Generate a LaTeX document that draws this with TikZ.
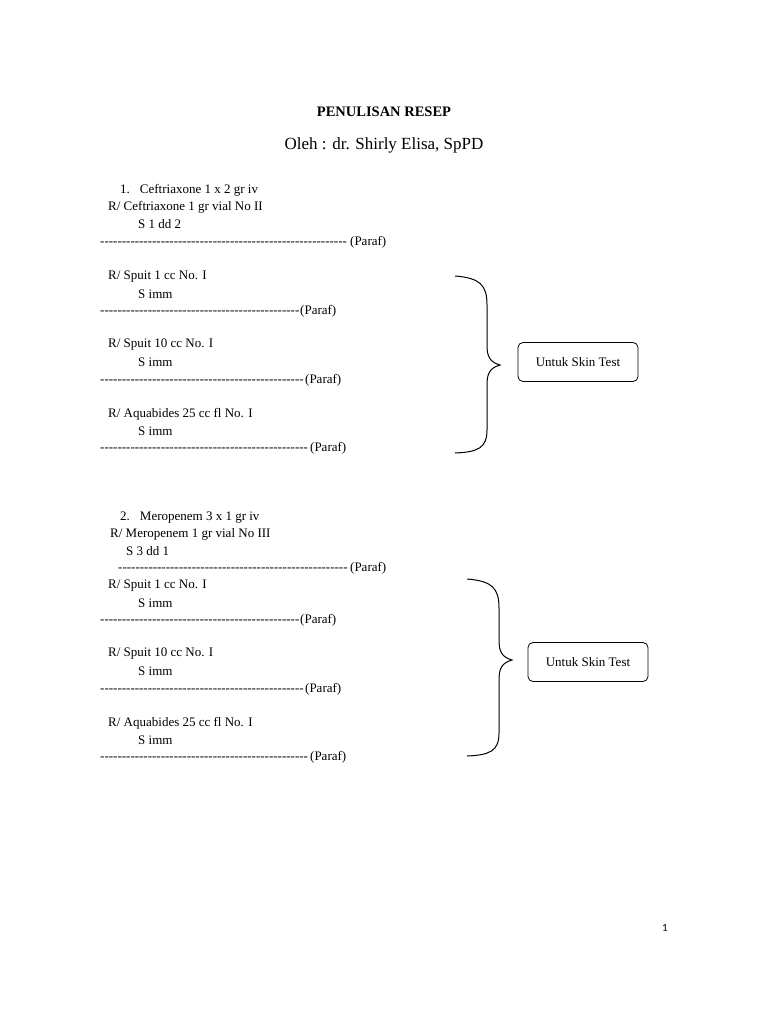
\documentclass[tikz,border=0pt]{standalone}
\usepackage{fontspec}
\setmainfont{Liberation Serif}
\newfontfamily\pgno{Carlito}
\newcommand\dl[1]{\makebox[#1pt]{\leaders\hbox{-}\hfill}(Paraf)}
\begin{document}
\begin{tikzpicture}[x=1pt,y=-1pt,
  t/.style={anchor=west,inner sep=0pt,font=\fontsize{13}{15}\selectfont},
  box/.style={draw,rounded corners=5pt,line width=0.8pt,minimum width=120pt,minimum height=39pt,font=\fontsize{13}{15}\selectfont},
  brace/.style={line width=1pt}]
\useasboundingbox[fill=white] (0,0) rectangle (768,1024);
\node[inner sep=0pt,font=\fontsize{14.5}{16}\selectfont\bfseries] (title) at (384,112) {PENULISAN RESEP};
\node[inner sep=0pt,font=\fontsize{17}{19}\selectfont] (by) at (384,145) {Oleh : dr. Shirly Elisa, SpPD};
% section 1
\node[t] (a1) at (120,190) {1.\hspace{10pt}Ceftriaxone 1 x 2 gr iv};
\node[t] (a2) at (108,207) {R/ Ceftriaxone 1 gr vial No II};
\node[t] (a3) at (138,224) {S 1 dd 2};
\node[t] (a4) at (100,242) {\dl{250}};
\node[t] (b1) at (108,277) {R/ Spuit 1 cc No. I};
\node[t] (b2) at (138,294) {S imm};
\node[t] (b3) at (100,311) {\dl{200}};
\node[t] (c1) at (108,345) {R/ Spuit 10 cc No. I};
\node[t] (c2) at (138,362) {S imm};
\node[t] (c3) at (100,380) {\dl{205}};
\node[t] (d1) at (108,414) {R/ Aquabides 25 cc fl No. I};
\node[t] (d2) at (138,431) {S imm};
\node[t] (d3) at (100,448) {\dl{210}};
\draw[brace] (455,276) .. controls (480,278) and (487,285) .. (487,305) -- (487,345) .. controls (487,357) and (490,362) .. (500,365)
  .. controls (490,368) and (487,373) .. (487,385) -- (487,430) .. controls (487,448) and (478,452) .. (455,453);
\node[box] (s1) at (578,362) {Untuk Skin Test};
% section 2
\node[t] (e1) at (120,518) {2.\hspace{10pt}Meropenem 3 x 1 gr iv};
\node[t] (e2) at (110,534) {R/ Meropenem 1 gr vial No III};
\node[t] (e3) at (126,551) {S 3 dd 1};
\node[t] (e4) at (118,568) {\dl{232}};
\node[t] (f1) at (108,586) {R/ Spuit 1 cc No. I};
\node[t] (f2) at (138,603) {S imm};
\node[t] (f3) at (100,620) {\dl{200}};
\node[t] (g1) at (108,654) {R/ Spuit 10 cc No. I};
\node[t] (g2) at (138,671) {S imm};
\node[t] (g3) at (100,689) {\dl{205}};
\node[t] (h1) at (108,723) {R/ Aquabides 25 cc fl No. I};
\node[t] (h2) at (138,740) {S imm};
\node[t] (h3) at (100,757) {\dl{210}};
\draw[brace] (467,579) .. controls (492,581) and (499,588) .. (499,608) -- (499,640) .. controls (499,652) and (502,657) .. (512,660)
  .. controls (502,663) and (499,668) .. (499,680) -- (499,733) .. controls (499,751) and (490,755) .. (467,756);
\node[box] (s2) at (588,662) {Untuk Skin Test};
\node[inner sep=0pt,font=\pgno\fontsize{11}{13}\selectfont] (pg) at (665,928) {1};
\end{tikzpicture}
\end{document}
